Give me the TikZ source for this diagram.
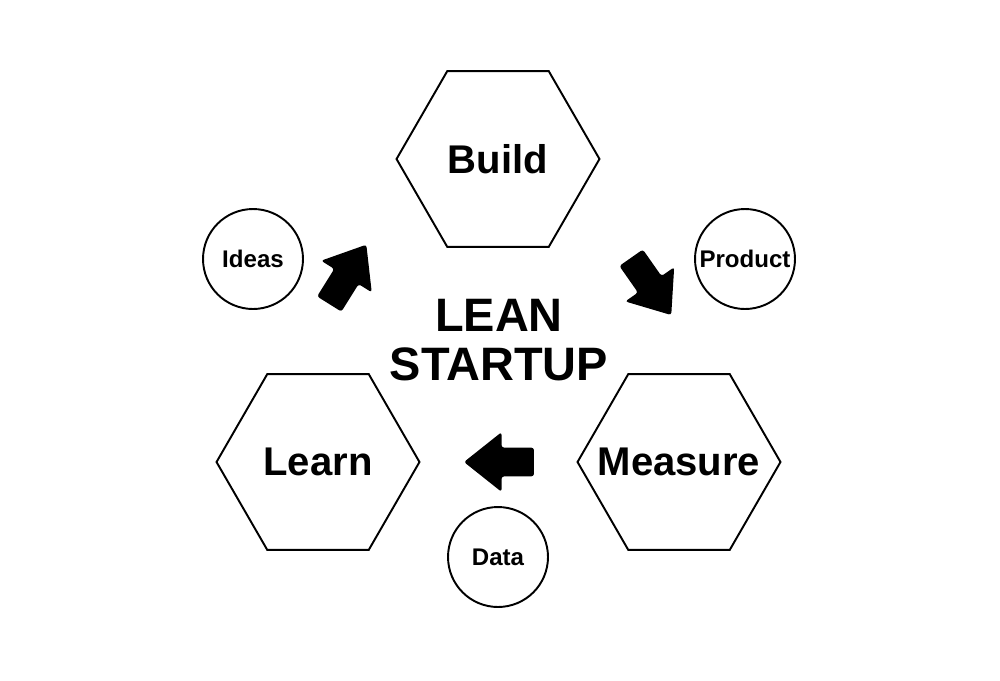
\documentclass[tikz,border=0pt]{standalone}
\usepackage{fontspec}
\setmainfont{Liberation Sans}
\usetikzlibrary{shapes.geometric,shapes.arrows}

\begin{document}
\begin{tikzpicture}[x=0.02cm, y=-0.02cm,
  hexbox/.style={draw, line width=1.1pt, regular polygon, regular polygon sides=6, minimum size=4.06cm, inner sep=0pt,
    label={[font=\fontsize{22.8}{27}\selectfont\bfseries]center:#1}},
  circbox/.style={draw, line width=1.1pt, circle, minimum size=2cm, inner sep=0pt, font=\fontsize{13.7}{16}\selectfont\bfseries},
  bigarrow/.style={single arrow, fill=black, minimum height=1.4cm, inner xsep=0pt, inner ysep=0.28cm, single arrow head extend=0.31cm, single arrow tip angle=77, rounded corners=1.5pt},
  title/.style={align=center, font=\fontsize{26.7}{27.9}\selectfont\bfseries}
]
\useasboundingbox (0,0) rectangle (1000,680);
\node[hexbox=Build] (build) at (498,159) {};
\node[hexbox=Learn] (learn) at (318,462) {};
\node[hexbox=Measure] (measure) at (679,462) {};
\node[circbox] (ideas) at (253,259) {Ideas};
\node[circbox] (product) at (745,259) {Product};
\node[circbox] (data) at (498,557) {Data};
\node[title] (lean) at (499,340) {LEAN\\STARTUP};
\node[bigarrow, rotate=58] (toBuild) at (343,282) {};
\node[bigarrow, rotate=-55] (toMeasure) at (646,279) {};
\node[bigarrow, rotate=180] (toLearn) at (508,462) {};
\end{tikzpicture}
\end{document}
